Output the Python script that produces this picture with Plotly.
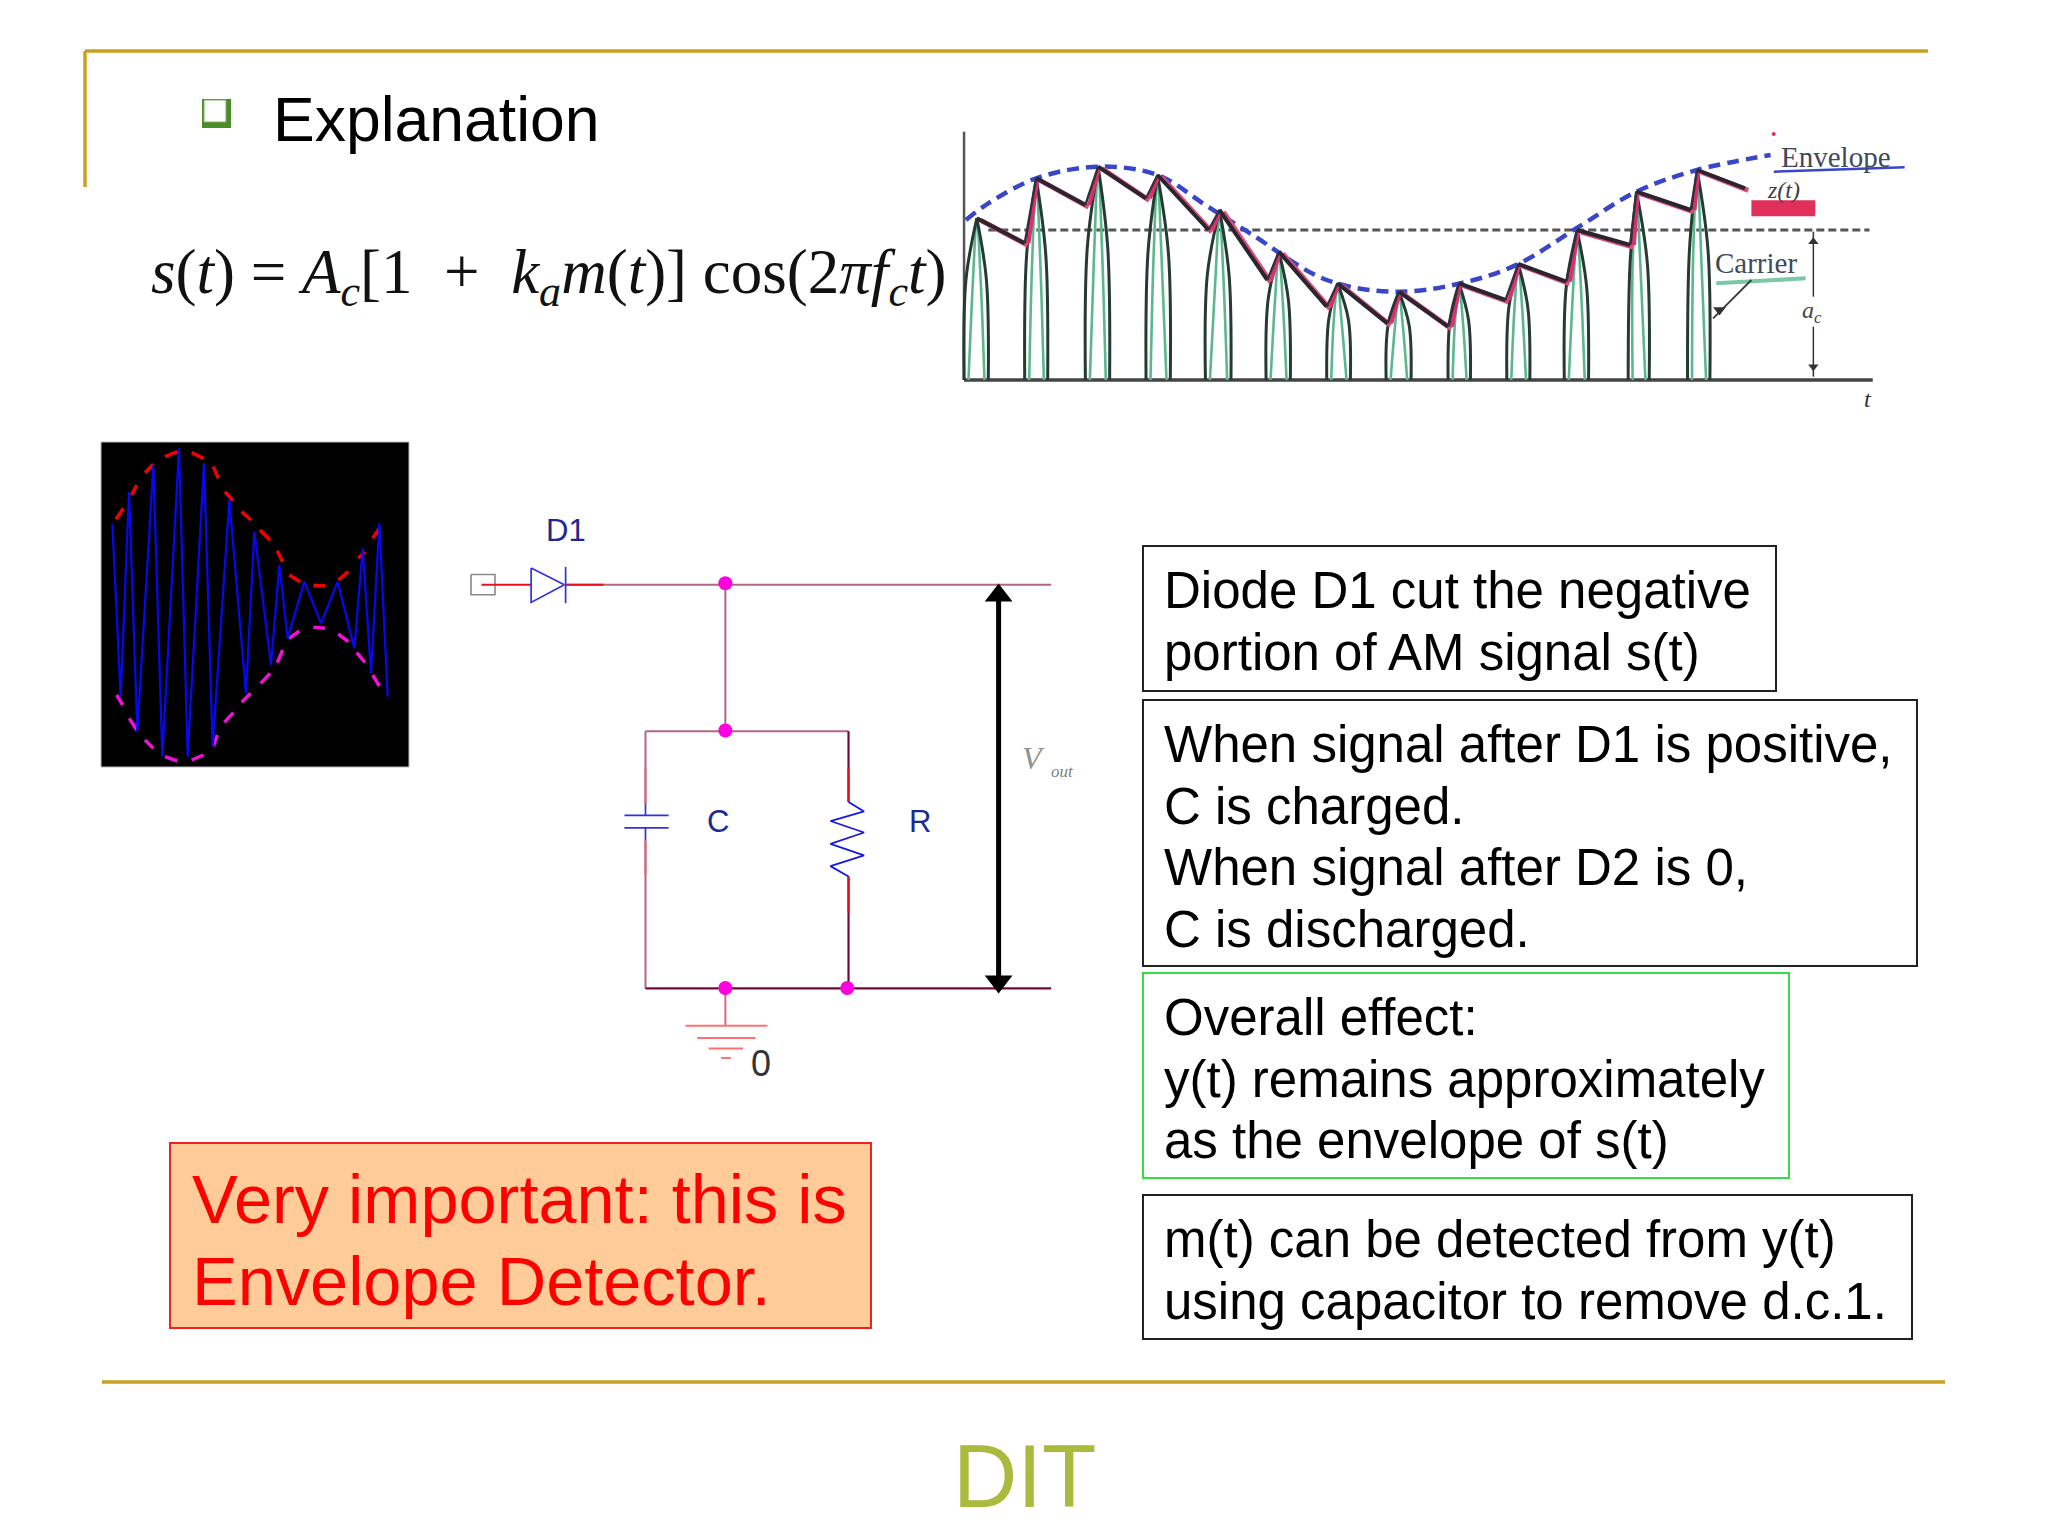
import plotly.graph_objects as go

W, H = 2048, 1536

# ---------- slide furniture ----------
GOLD = "#C8A21E"
TITLE = "Explanation"
FOOTER = "DIT"
BOX_LINES = [
    ["Diode D1 cut the negative", "portion of AM signal s(t)"],
    ["When signal after D1 is positive,", "C is charged.", "When signal after D2 is 0,", "C is discharged."],
    ["Overall effect:", "y(t) remains approximately", "as the envelope of s(t)"],
    ["m(t) can be detected from y(t)", "using capacitor to remove d.c.1."],
]
BOX_LINE_Y = [[590, 652], [744, 806, 867, 929], [1017, 1079, 1140], [1239, 1301]]
BOX_RECTS = [(1143, 546, 1776, 691), (1143, 700, 1917, 966), (1143, 973, 1789, 1178), (1143, 1195, 1912, 1339)]
BOX_COLORS = ["#222222", "#222222", "#33DD44", "#222222"]
RED_LINES = ["Very important: this is", "Envelope Detector."]
RED_LINE_Y = [1199, 1281]
FORMULA = ("<i>s</i>(<i>t</i>) = <i>A<sub>c</sub></i>[1&nbsp; + &nbsp;<i>k<sub>a</sub>m</i>(<i>t</i>)] "
           "cos(2<i>πf<sub>c</sub>t</i>)")

# ---------- AM waveform ----------
am_x = [67, 92, 117, 142, 190, 217, 267, 293, 342, 368, 418, 468, 493, 543, 568, 593, 643, 693, 743, 793, 818, 843, 868, 893]
am_y = [282, 800, 185, 905, 105, 980, 55, 980, 100, 950, 210, 790, 305, 705, 405, 625, 455, 580, 455, 655, 355, 730, 280, 800]
upper_x = [78, 100, None, 125, 140, None, 165, 190, None, 225, 262, None, 305, 340, None, 370, 385, None, 405, 428, None,
           455, 483, None, 510, 540, None, 562, 578, None, 598, 630, None, 670, 705, None, 745, 775, None, 805, 825, None, 848, 868]
upper_y = [268, 235, None, 195, 165, None, 128, 103, None, 80, 65, None, 68, 85, None, 110, 145, None, 185, 212, None,
           245, 270, None, 300, 330, None, 362, 395, None, 435, 455, None, 467, 467, None, 450, 425, None, 385, 365, None, 325, 295]
lower_x = [80, 98, None, 118, 140, None, 165, 190, None, 225, 262, None, 305, 340, None, 370, 382, None, 403, 430, None,
           455, 482, None, 512, 540, None, 562, 578, None, 597, 628, None, 670, 705, None, 745, 775, None, 800, 825, None, 848, 868]
lower_y = [795, 825, None, 865, 900, None, 930, 955, None, 980, 993, None, 990, 975, None, 948, 915, None, 877, 848, None,
           817, 790, None, 760, 730, None, 698, 660, None, 625, 603, None, 592, 595, None, 612, 635, None, 668, 697, None, 735, 768]

# ---------- detector waveform ----------
lobe_start = [22, 117, 212, 307, 400, 495, 590, 683, 780, 872, 962, 1062, 1155]
lobe_peak_x = [42, 135, 232, 325, 422, 515, 607, 703, 797, 890, 982, 1075, 1170]
lobe_peak_y = [325, 205, 170, 195, 300, 425, 520, 545, 520, 462, 360, 245, 180]
lobe_end = [60, 153, 250, 345, 440, 533, 627, 722, 815, 908, 1000, 1095, 1190]
discharge_x = [117, 212, 307, 405, 497, 590, 685, 780, 870, 965, 1065, 1160, 1245]
discharge_y = [400, 285, 265, 360, 510, 590, 640, 650, 570, 515, 405, 300, 235]
env_x = [25, 60, 135, 232, 325, 400, 470, 590, 703, 810, 890, 985, 1075, 1170, 1285]
env_y = [330, 280, 205, 170, 195, 285, 370, 510, 545, 515, 462, 350, 245, 180, 135]
carrier_level = 360
t_axis = 810

# ---------- circuit ----------
wire_x = [275, 1430, None, 655, 655, None, 465, 948, None, 465, 465, None, 465, 465]
wire_y = [222, 222, None, 222, 603, None, 605, 605, None, 605, 795, None, 890, 1278]
dark_x = [948, 948, None, 948, 948, None, 465, 1430]
dark_y = [605, 790, None, 985, 1278, None, 1278, 1278]
red_x = [948, 948, None, 948, 948, None, 75, 195, None, 275, 365]
red_y = [700, 790, None, 985, 1080, None, 222, 222, None, 222, 222]
pink_x = [465, 465, None, 465, 465, None, 655, 655]
pink_y = [700, 795, None, 890, 980, None, 1278, 1376]
gnd_x = [560, 755, None, 588, 727, None, 615, 697, None, 645, 668]
gnd_y = [1376, 1376, None, 1408, 1408, None, 1435, 1435, None, 1460, 1460]
blue_x = [193, 193, 272, 193, None, 275, 275, None, 415, 520, None, 415, 520, None, 465, 465, None, 465, 465]
blue_y = [178, 268, 222, 178, None, 175, 270, None, 825, 825, None, 858, 858, None, 795, 825, None, 858, 890]
res_x = [948, 985, 905, 985, 905, 985, 905, 948]
res_y = [790, 815, 840, 870, 900, 930, 958, 985]
node_x = [655, 655, 655, 945]
node_y = [218, 603, 1277, 1277]
term_x = [50, 107, 107, 50, 50]
term_y = [195, 195, 248, 248, 195]
vout_x = [1305, 1305]
vout_y = [232, 1275]

fig = go.Figure()


def dom(a0, a1, b0, b1):
    return dict(domain=[a0 / W, a1 / W]), dict(domain=[1 - b1 / H, 1 - b0 / H])


hidden = dict(visible=False, showgrid=False, zeroline=False, fixedrange=True)
layout = dict(
    width=W, height=H, margin=dict(l=0, r=0, t=0, b=0), paper_bgcolor="white", plot_bgcolor="rgba(0,0,0,0)",
    showlegend=False,
    xaxis=dict(range=[0, W], domain=[0, 1], **hidden),
    yaxis=dict(range=[H, 0], domain=[0, 1], **hidden),
)
insets = {
    2: (90, 430, 430, 780, 1020, 1050),      # AM signal
    3: (950, 1950, 110, 430, 1566, 960),     # detector waveform
    4: (450, 1110, 500, 1100, 1570, 1570),   # circuit
}
for n, (a0, a1, b0, b1, rx, ry) in insets.items():
    dx, dy = dom(a0, a1, b0, b1)
    layout[f"xaxis{n}"] = dict(range=[0, rx], anchor=f"y{n}", **dx, **hidden)
    layout[f"yaxis{n}"] = dict(range=[ry, 0], anchor=f"x{n}", **dy, **hidden)
fig.update_layout(**layout)


def line(n, x, y, color, width, dash=None, shape="linear", opacity=1):
    ax = "" if n == 1 else str(n)
    fig.add_trace(go.Scatter(x=x, y=y, xaxis=f"x{ax}", yaxis=f"y{ax}", mode="lines", hoverinfo="skip", opacity=opacity,
                             line=dict(color=color, width=width, dash=dash, shape=shape)))


def marks(n, x, y, symbol, size, color):
    ax = "" if n == 1 else str(n)
    fig.add_trace(go.Scatter(x=x, y=y, xaxis=f"x{ax}", yaxis=f"y{ax}", mode="markers", hoverinfo="skip",
                             marker=dict(symbol=symbol, size=size, color=color, line=dict(width=0))))


def text(n, x, y, s, size, color="black", family="Liberation Sans", anchor="left"):
    ax = "" if n == 1 else str(n)
    fig.add_annotation(x=x, y=y, xref=f"x{ax}", yref=f"y{ax}", text=s, showarrow=False, xanchor=anchor, yanchor="middle",
                       font=dict(size=size, color=color, family=family), borderpad=0, borderwidth=0)


def rect(x0, y0, x1, y1, color, width, fill=None):
    fig.add_shape(type="rect", x0=x0, y0=y0, x1=x1, y1=y1, xref="x", yref="y", fillcolor=fill,
                  line=dict(color=color, width=width), layer="below")


# slide rules
fig.add_shape(type="line", x0=85, y0=51, x1=1928, y1=51, line=dict(color=GOLD, width=3.5))
fig.add_shape(type="line", x0=85, y0=51, x1=85, y1=187, line=dict(color=GOLD, width=3.5))
fig.add_shape(type="line", x0=102, y0=1382, x1=1945, y1=1382, line=dict(color=GOLD, width=3.5))

# bullet and title
rect(202, 99, 231, 128, "#4A8C2A", 0, "#4A8C2A")
rect(204, 100, 226, 122, "#7FAF60", 1, "#FFFFFF")
text(1, 273, 119, TITLE, 62.5)
text(1, 1024, 1476, FOOTER, 89, "#A9BA3C", anchor="center")

# text boxes
for r, c, ls, ys in zip(BOX_RECTS, BOX_COLORS, BOX_LINES, BOX_LINE_Y):
    rect(*r, c, 2, "white")
    for s, y in zip(ls, ys):
        text(1, 1164, y, s, 51)
rect(170, 1143, 871, 1328, "#EE2222", 2, "#FFCC99")
for s, y in zip(RED_LINES, RED_LINE_Y):
    text(1, 192, y, s, 68.5, "#FF0000")

# formula
text(1, 151, 276, FORMULA, 63, "#111111", "Liberation Serif")

# AM signal
rect(101, 442, 409, 767, "#BBBBBB", 1, "#000000")
line(2, upper_x, upper_y, "#F00000", 3.5)
line(2, lower_x, lower_y, "#F010D8", 3.5)
line(2, am_x, am_y, "#0808F0", 2.2)

# detector waveform
line(3, [22, 22], [65, 810], "#555555", 2.5)
line(3, [22, 1445], [t_axis, t_axis], "#444444", 3.5)
line(3, [60, 1440], [carrier_level, carrier_level], "#555555", 3, dash="8px,4px")
for a, px, py, b in zip(lobe_start, lobe_peak_x, lobe_peak_y, lobe_end):
    mid = t_axis - 0.62 * (t_axis - py)
    line(3, [a + 7, px - 6, px, px + 6, b - 6], [t_axis, mid, py, mid, t_axis], "#5CB88C", 2.6, shape="spline")
    line(3, [a, a + 3, px], [t_axis, mid, py], "#263A34", 3, shape="spline")
    line(3, [px, b - 3, b], [py, mid, t_axis], "#263A34", 3, shape="spline")
line(3, env_x, env_y, "#3A46C8", 4.5, dash="12px,7px", shape="spline")
for i, (px, py) in enumerate(zip(lobe_peak_x, lobe_peak_y)):
    dx, dy = discharge_x[i], discharge_y[i]
    line(3, [px + 6, dx + 5], [py + 6, dy + 6], "#E04878", 5)
    line(3, [px, dx], [py, dy], "#2A2630", 4)
    if i + 1 < len(lobe_peak_x):
        line(3, [dx + 6, lobe_peak_x[i + 1] + 2], [dy, lobe_peak_y[i + 1]], "#D83070", 4)
        line(3, [dx, lobe_peak_x[i + 1]], [dy, lobe_peak_y[i + 1]], "#33303A", 2.4)
line(3, [1290, 1495], [185, 172], "#3A46C8", 2.5)
line(3, [1255, 1355], [295, 295], "#E0305A", 16)
line(3, [1200, 1340], [520, 505], "#7CC8A4", 4)
line(3, [1255, 1195], [510, 625], "#3A3A3A", 1.8)
marks(3, [1205], [600], "triangle-down", 11, "#333333")
line(3, [1352, 1352], [365, 560], "#333333", 1.5)
line(3, [1352, 1352], [650, 800], "#333333", 1.5)
marks(3, [1352], [395], "triangle-up", 9, "#333333")
marks(3, [1352], [770], "triangle-down", 9, "#333333")
marks(3, [1290], [72], "circle", 4, "#E0305A")
text(3, 1388, 140, "Envelope", 29, "#3E4A5A", "Liberation Serif", "center")
text(3, 1305, 240, "<i>z(t)</i>", 24, "#3E3E3E", "Liberation Serif", "center")
text(3, 1262, 460, "Carrier", 29, "#3E4A5A", "Liberation Serif", "center")
text(3, 1350, 605, "<i>a<sub>c</sub></i>", 24, "#444444", "Liberation Serif", "center")
text(3, 1437, 868, "<i>t</i>", 24, "#333333", "Liberation Serif", "center")

# circuit
line(4, term_x, term_y, "#888888", 1.6)
line(4, wire_x, wire_y, "#B0687C", 2)
line(4, dark_x, dark_y, "#700A3C", 2.2)
line(4, pink_x, pink_y, "#D86880", 2)
line(4, red_x, red_y, "#E81020", 2)
line(4, gnd_x, gnd_y, "#FF7070", 2)
line(4, blue_x, blue_y, "#3030E0", 1.7)
line(4, res_x, res_y, "#1818E0", 1.8)
line(4, vout_x, vout_y, "#000000", 5)
marks(4, [vout_x[0]], [vout_y[0] + 18], "triangle-up", 24, "#000000")
marks(4, [vout_x[1]], [vout_y[1] - 15], "triangle-down", 24, "#000000")
marks(4, node_x, node_y, "circle", 14, "#FF00E0")
text(4, 275, 80, "D1", 31, "#1A2A90", anchor="center")
text(4, 637, 842, "C", 31, "#1A2A90", anchor="center")
text(4, 1118, 842, "R", 31, "#1A2A90", anchor="center")
text(4, 740, 1475, "0", 36, "#333333", anchor="center")
text(4, 1388, 676, "<i>V</i>", 32, "#909090", "Liberation Serif", "center")
text(4, 1458, 710, "<i>out</i>", 17, "#808080", "Liberation Serif", "center")

fig.write_html("out.html", config=dict(displayModeBar=False),
               post_script="document.body.style.margin='0';document.body.style.overflow='hidden';")
